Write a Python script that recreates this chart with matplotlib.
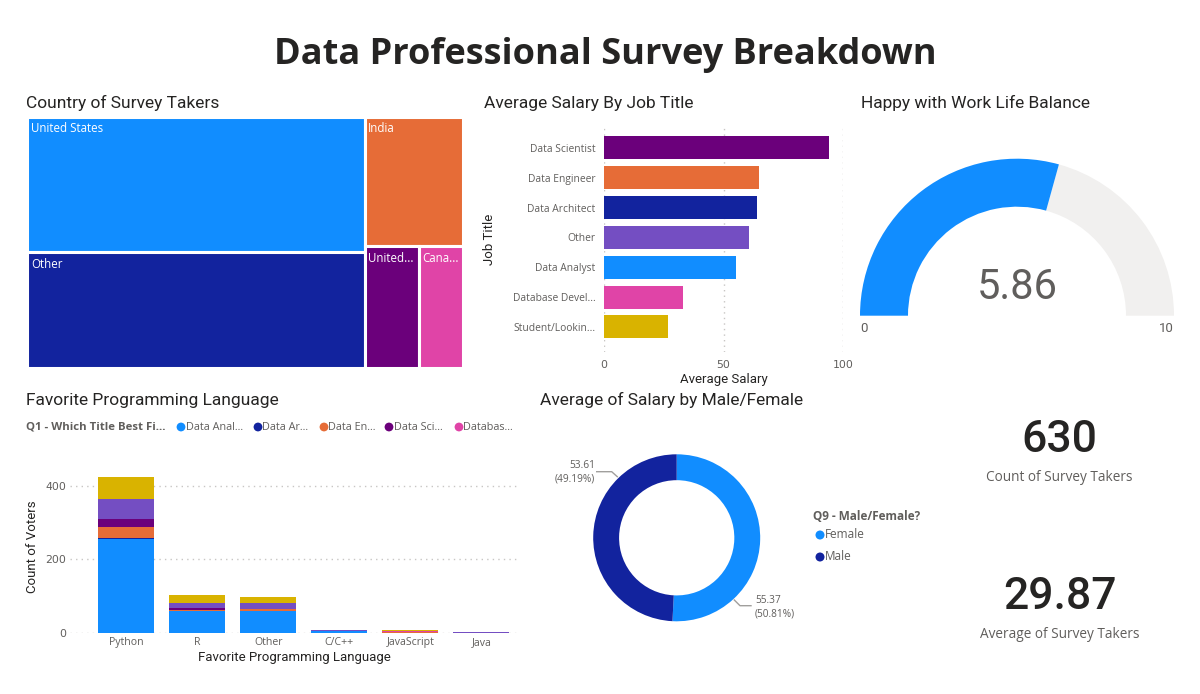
import matplotlib
matplotlib.use("Agg")
import matplotlib.pyplot as plt
from matplotlib.patches import Rectangle, Wedge
import numpy as np

# ---- data ----
countries = ["United States", "Other", "India", "United Kingdom", "Canada"]
country_labels = ["United States", "Other", "India", "United...", "Cana..."]
country_counts = [263, 225, 73, 38, 31]
country_colors = ["#118DFF", "#12239E", "#E66C37", "#6B007B", "#E044A7"]

job_labels = ["Data Scientist", "Data Engineer", "Data Architect", "Other",
              "Data Analyst", "Database Devel...", "Student/Lookin..."]
job_salary = [94.0, 65.0, 63.9, 60.8, 55.2, 33.1, 26.6]
job_colors = ["#6B007B", "#E66C37", "#12239E", "#744EC2", "#118DFF", "#E044A7", "#D9B300"]

happy_score = 5.86
happy_max = 10

languages = ["Python", "R", "Other", "C/C++", "JavaScript", "Java"]
stack_titles = ["Data Analyst", "Data Architect", "Data Engineer", "Data Scientist",
                "Database Developer", "Other", "Student/Looking"]
stack_colors = ["#118DFF", "#12239E", "#E66C37", "#6B007B", "#E044A7", "#744EC2", "#D9B300"]
votes = {
    "Data Analyst":       [256, 61, 61, 5, 1, 1],
    "Data Architect":     [3, 0, 0, 0, 0, 0],
    "Data Engineer":      [28, 1, 4, 0, 2, 0],
    "Data Scientist":     [22, 5, 0, 0, 0, 0],
    "Database Developer": [2, 0, 1, 0, 2, 0],
    "Other":              [53, 15, 15, 4, 0, 3],
    "Student/Looking":    [59, 21, 16, 0, 3, 0],
}
legend_short = ["Data Anal...", "Data Ar...", "Data En...", "Data Sci...", "Databas..."]

genders = ["Female", "Male"]
gender_salary = [55.37, 53.61]
gender_colors = ["#118DFF", "#12239E"]

survey_count = 630
survey_avg_age = 29.87

W, H = 1200, 694
fig = plt.figure(figsize=(12, 6.94), dpi=100)
fig.patch.set_facecolor("white")

TITLE_FONT = "Roboto"
BODY_FONT = "Open Sans"
GRAY = "#605E5C"
DARK = "#252423"


def px_axes(x0, y0, x1, y1):
    return fig.add_axes([x0 / W, 1 - y1 / H, (x1 - x0) / W, (y1 - y0) / H])


# ---- treemap ----
tx0, ty0, tx1, ty1 = 27.5, 117, 463, 368
ax = px_axes(tx0, ty0, tx1, ty1)
ax.set_xlim(0, 1)
ax.set_ylim(1, 0)
ax.axis("off")
total = sum(country_counts)
us, oth, ind, uk, can = country_counts
col1_w = (us + oth) / total
rects = []
rects.append((0, 0, col1_w, us / (us + oth)))
rects.append((0, us / (us + oth), col1_w, oth / (us + oth)))
rest = ind + uk + can
ind_h = ind / rest
rects.append((col1_w, 0, 1 - col1_w, ind_h))
uk_w = (1 - col1_w) * uk / (uk + can)
rects.append((col1_w, ind_h, uk_w, 1 - ind_h))
rects.append((col1_w + uk_w, ind_h, 1 - col1_w - uk_w, 1 - ind_h))
for (x, y, w, h), c, lab in zip(rects, country_colors, country_labels):
    ax.add_patch(Rectangle((x, y), w, h, facecolor=c, edgecolor="white", lw=2.2))
    ax.text(x + 3.5 / (tx1 - tx0), y + 12 / (ty1 - ty0), lab, color="white", fontsize=8.3,
            family=BODY_FONT, va="center", ha="left")

# ---- average salary by job title ----
ax = px_axes(604, 127, 843, 352)
y = np.arange(len(job_labels))
ax.barh(y, job_salary, height=0.77, color=job_colors)
ax.set_ylim(len(job_labels) - 0.16, -0.7)
ax.set_xlim(0, 100)
ax.set_xticks([0, 50, 100])
ax.set_yticks(y)
ax.set_yticklabels(job_labels, fontsize=7.4, color=GRAY, family=BODY_FONT)
ax.tick_params(length=0, pad=6)
for lab in ax.get_xticklabels():
    lab.set_fontsize(7.8)
    lab.set_color(GRAY)
ax.grid(axis="x", linestyle=(0, (1, 3)), color="#C8C6C4", lw=1)
ax.set_axisbelow(True)
for s in ax.spines.values():
    s.set_visible(False)
ax.set_xlabel("Average Salary", fontsize=9.5, color=DARK, family=TITLE_FONT, labelpad=2)
ax.set_ylabel("Job Title", fontsize=9.5, color=DARK, family=TITLE_FONT, labelpad=12)

# ---- gauge ----
ax = px_axes(1017 - 160, 315.7 - 160, 1017 + 160, 315.7 + 10)
ax.set_xlim(-160, 160)
ax.set_ylim(-10, 160)
ax.set_aspect("equal")
ax.axis("off")
ang = 180 - happy_score / happy_max * 180
ax.add_patch(Wedge((0, 0), 157, 0, ang, width=48, facecolor="#F1F0EF", edgecolor="none"))
ax.add_patch(Wedge((0, 0), 157, ang, 180, width=48, facecolor="#118DFF", edgecolor="none"))

# ---- favorite programming language ----
ax = px_axes(70, 460, 519, 633)
x = np.arange(len(languages))
bottom = np.zeros(len(languages))
for t, c in zip(stack_titles, stack_colors):
    v = np.array(votes[t])
    ax.bar(x, v, bottom=bottom, width=0.785, color=c)
    bottom += v
ax.set_xlim(-0.79, len(languages) - 0.47)
ax.set_ylim(0, 470)
ax.set_yticks([0, 200, 400])
ax.set_xticks(x)
ax.set_xticklabels(languages, fontsize=7.6, color=GRAY, family=BODY_FONT)
for lab in ax.get_yticklabels():
    lab.set_fontsize(7.8)
    lab.set_color(GRAY)
ax.tick_params(length=0, pad=3)
ax.grid(axis="y", linestyle=(0, (1, 3)), color="#C8C6C4", lw=1)
ax.set_axisbelow(True)
for s in ax.spines.values():
    s.set_visible(False)
ax.set_xlabel("Favorite Programming Language", fontsize=9.5, color=DARK, family=TITLE_FONT, labelpad=2)
ax.set_ylabel("Count of Voters", fontsize=9.5, color=DARK, family=TITLE_FONT, labelpad=4)

# ---- donut ----
cx, cy, r = 676.7, 537.8, 83.5
ax = px_axes(cx - 90, cy - 90, cx + 90, cy + 90)
ax.pie(gender_salary, colors=gender_colors, startangle=90, counterclock=False,
       radius=1, wedgeprops=dict(width=0.31, edgecolor="none"))
lim = 90 / r
ax.set_xlim(-lim, lim)
ax.set_ylim(-lim, lim)
ax.set_aspect("equal")
ax.axis("off")

# ---- overlay for titles, legends, cards ----
ov = fig.add_axes([0, 0, 1, 1])
ov.set_xlim(0, W)
ov.set_ylim(H, 0)
ov.axis("off")
ov.patch.set_visible(False)

ov.text(605, 55, "Data Professional Survey Breakdown", fontsize=26, fontweight="bold",
        family=BODY_FONT, color=DARK, ha="center", va="center")
for tx, ty, s in [(26, 103, "Country of Survey Takers"), (484, 103, "Average Salary By Job Title"),
                  (861, 103, "Happy with Work Life Balance"), (26, 400, "Favorite Programming Language"),
                  (540, 400, "Average of Salary by Male/Female")]:
    ov.text(tx, ty, s, fontsize=12.5, family=TITLE_FONT, color=DARK, ha="left", va="center")

# gauge labels
ov.text(1017, 287, f"{happy_score:.2f}", fontsize=30, family=TITLE_FONT,
        color=GRAY, ha="center", va="center")
ov.text(864, 328, "0", fontsize=9.5, family=TITLE_FONT, color=GRAY, ha="center", va="center")
ov.text(1166, 328, str(happy_max), fontsize=9.5, family=TITLE_FONT, color=GRAY, ha="center", va="center")

# programming legend
ov.text(26, 427, "Q1 - Which Title Best Fi...", fontsize=8.2, fontweight="bold",
        family=BODY_FONT, color=GRAY, ha="left", va="center")
lx = [181, 258, 324, 389, 459]
for xx, c, s in zip(lx, stack_colors[:5], legend_short):
    ov.scatter([xx], [427], s=40, color=c, edgecolor="none")
    ov.text(xx + 4.5, 427, s, fontsize=7.8, family=BODY_FONT, color=GRAY, ha="left", va="center")

# donut labels
share = np.array(gender_salary) / sum(gender_salary) * 100
ov.plot([596.7, 611.7, 617.3], [471.7, 471.7, 476.7], color="#A19F9D", lw=1)
ov.text(595, 472, f"{gender_salary[1]:.2f}\n({share[1]:.2f}%)", fontsize=7.3, family=BODY_FONT,
        color=GRAY, ha="right", va="center", linespacing=1.3)
ov.plot([734.3, 740, 751], [600, 605.7, 605.7], color="#A19F9D", lw=1)
ov.text(755, 607, f"{gender_salary[0]:.2f}\n({share[0]:.2f}%)", fontsize=7.3, family=BODY_FONT,
        color=GRAY, ha="left", va="center", linespacing=1.3)
ov.text(813, 516, "Q9 - Male/Female?", fontsize=8.5, fontweight="bold", family=BODY_FONT,
        color=GRAY, ha="left", va="center")
for yy, c, s in zip([535, 557], gender_colors, genders):
    ov.scatter([820], [yy], s=42, color=c, edgecolor="none")
    ov.text(825, yy, s, fontsize=8.5, family=BODY_FONT, color=GRAY, ha="left", va="center")

# cards
ov.text(1059, 440, str(survey_count), fontsize=32, family=TITLE_FONT, fontweight="medium",
        color=DARK, ha="center", va="center")
ov.text(1059, 477, "Count of Survey Takers", fontsize=9.8, family=BODY_FONT, color=GRAY,
        ha="center", va="center")
ov.text(1060, 597, f"{survey_avg_age:.2f}", fontsize=32, family=TITLE_FONT, fontweight="medium",
        color=DARK, ha="center", va="center")
ov.text(1060, 634, "Average of Survey Takers", fontsize=9.8, family=BODY_FONT, color=GRAY,
        ha="center", va="center")

fig.savefig("out.png", dpi=100, facecolor="white")
